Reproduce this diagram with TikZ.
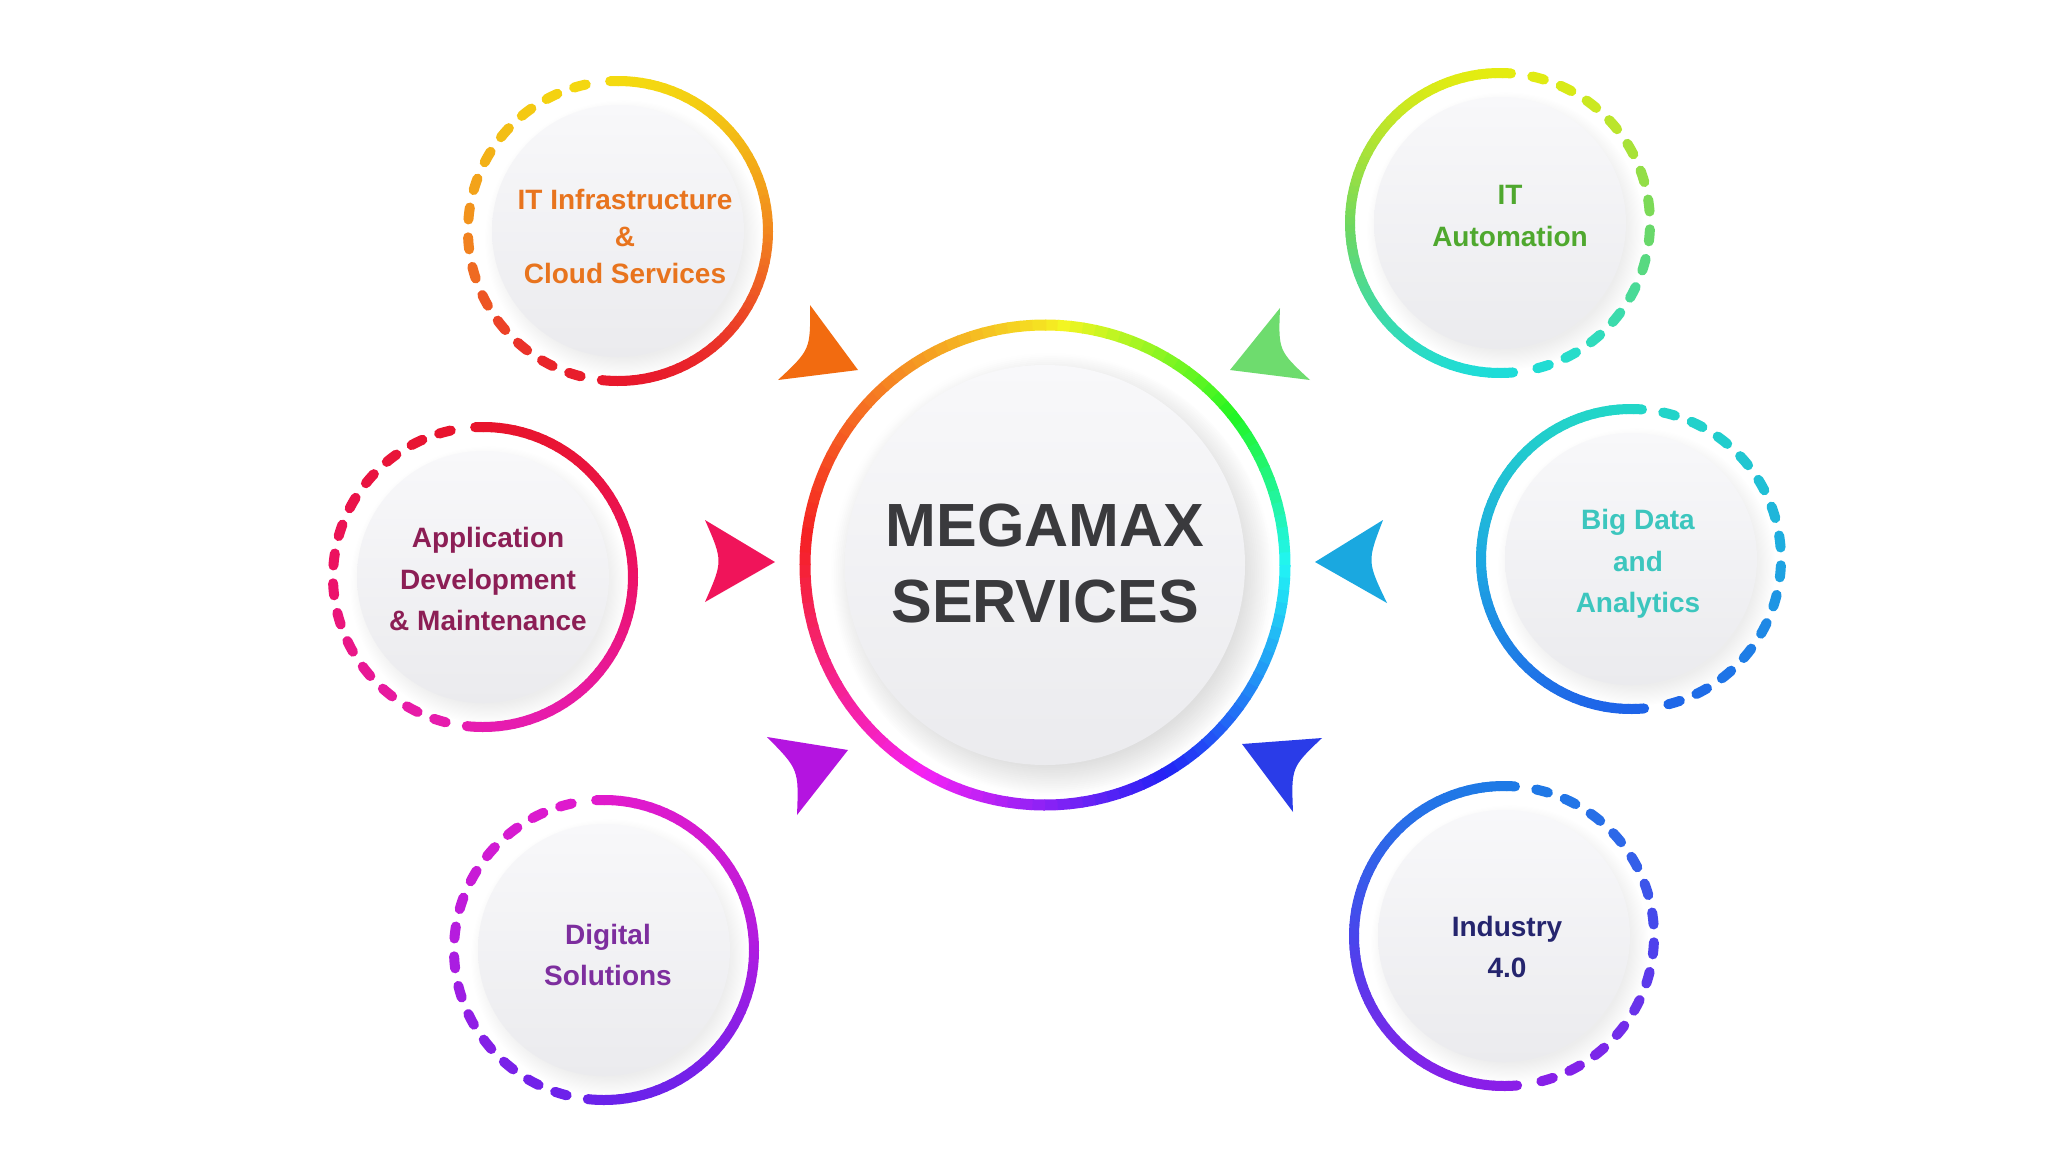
\documentclass[tikz,border=0pt]{standalone}
\usepackage{fontspec}
\setmainfont{Liberation Sans}
\usepackage{tikz}
\usetikzlibrary{shadows,fadings}

\definecolor{hubink}{HTML}{3A3A3D}
\definecolor{disktop}{HTML}{F8F8FA}
\definecolor{diskbot}{HTML}{EBEBEE}
\definecolor{infraink}{HTML}{E8741E}
\definecolor{autoink}{HTML}{4FA82E}
\definecolor{appink}{HTML}{8C1E55}
\definecolor{dataink}{HTML}{3CC6BE}
\definecolor{digiink}{HTML}{7D2E9E}
\definecolor{indink}{HTML}{25256E}
% ring colours: top, middle, bottom
\definecolor{infraA}{HTML}{F4DA10}\definecolor{infraB}{HTML}{F28A1E}\definecolor{infraC}{HTML}{E8182C}
\definecolor{autoA}{HTML}{E4EC10}\definecolor{autoB}{HTML}{6ED860}\definecolor{autoC}{HTML}{1EDCD8}
\definecolor{appA}{HTML}{E8142C}\definecolor{appB}{HTML}{EC1266}\definecolor{appC}{HTML}{E61CB0}
\definecolor{dataA}{HTML}{22D6C8}\definecolor{dataB}{HTML}{1EA8E2}\definecolor{dataC}{HTML}{1E64E8}
\definecolor{digiA}{HTML}{E01ACC}\definecolor{digiB}{HTML}{B01CE0}\definecolor{digiC}{HTML}{6A22EA}
\definecolor{indA}{HTML}{1E7AE6}\definecolor{indB}{HTML}{4A44EC}\definecolor{indC}{HTML}{8A1EE8}
% pointer colours
\definecolor{ptrorange}{HTML}{F26B10}
\definecolor{ptrgreen}{HTML}{6EDC6E}
\definecolor{ptrred}{HTML}{F0145A}
\definecolor{ptrcyan}{HTML}{1AA8E0}
\definecolor{ptrviolet}{HTML}{B414E0}
\definecolor{ptrblue}{HTML}{2A3CE8}

% colour of a ring at angle #1, from top #2 over #3 to bottom #4
\newcommand{\pickcol}[4]{%
  \pgfmathsetmacro\ringt{max(0,min(200,100*(1+sin(#1))))}%
  \ifdim\ringt pt<100pt
    \colorlet{ringc}{#3!\ringt!#2}%
  \else
    \pgfmathsetmacro\ringt{\ringt-100}%
    \colorlet{ringc}{#4!\ringt!#3}%
  \fi}

% half solid, half dashed ring round node #1, solid part starts at #2
\newcommand{\servring}[5]{%
  \foreach \k in {0,...,62}{%
    \pgfmathsetmacro\aS{#2+3*\k}%
    \pickcol{\aS+1.5}{#3}{#4}{#5}%
    \draw[ringc, ringline] ([shift={(\aS:150)}]#1.center) arc[start angle=\aS, end angle=\aS+3.2, radius=150];
  }%
  \foreach \k in {0,...,13}{%
    \pgfmathsetmacro\aS{#2+194+(\k+0.5)*160/14-2.3}%
    \pickcol{\aS+2.3}{#3}{#4}{#5}%
    \draw[ringc, ringline] ([shift={(\aS:150)}]#1.center) arc[start angle=\aS, end angle=\aS+4.6, radius=150];
  }}

\tikzset{
  ringline/.style={line width=10pt, line cap=round},
  disk/.style={circle, inner sep=0pt, minimum size=252pt, top color=disktop, bottom color=diskbot,
    circular drop shadow={shadow xshift=5pt, shadow yshift=-7pt, opacity=.14}},
  hubdisk/.style={disk, minimum size=400pt,
    circular drop shadow={shadow xshift=8pt, shadow yshift=-10pt, opacity=.14}},
  labeltext/.style={align=center, inner sep=0pt, font=\bfseries\fontsize{28}{41.5}\selectfont}
}

\begin{document}
\begin{tikzpicture}[x=1pt,y=1pt,yscale=-1,xscale=1]
\useasboundingbox (0,0) rectangle (2048,1152);
\fill[white] (0,0) rectangle (2048,1152);

%Shape: Circle (centre)
\node[hubdisk] (hub) at (1045,565) {};
\foreach \aS/\hA/\hB in {-90/55/110, -45/110/180, 0/180/225, 45/225/270, 90/270/315, 135/315/355, 180/355/385, 225/385/415}{
  \foreach \k in {0,...,14}{
    \pgfmathsetmacro\aT{\aS+3*\k}
    \pgfmathsetmacro\hh{mod(\hA+(\hB-\hA)*(\k+0.5)/15,360)}
    \definecolor{huec}{Hsb}{\hh,0.86,0.96}
    \draw[huec, line width=11pt] ([shift={(\aT:240)}]hub.center) arc[start angle=\aT, end angle=\aT+3.3, radius=240];
  }}

%Shape: Circles (services)
\node[disk] (infra) at (618,231) {};
\node[disk] (automation) at (1500,223) {};
\node[disk] (appdev) at (483,577) {};
\node[disk] (bigdata) at (1631,559) {};
\node[disk] (digital) at (604,950) {};
\node[disk] (industry) at (1504,936) {};

\servring{infra}{-93}{infraA}{infraB}{infraC}
\servring{automation}{85}{autoA}{autoB}{autoC}
\servring{appdev}{-93}{appA}{appB}{appC}
\servring{bigdata}{85}{dataA}{dataB}{dataC}
\servring{digital}{-93}{digiA}{digiB}{digiC}
\servring{industry}{85}{indA}{indB}{indC}

%Shape: Pointers
\fill[ptrorange] (810,305) .. controls (810.5,349.6) .. (778,380) -- (858,370) -- cycle;
\fill[ptrgreen] (1280,308) .. controls (1278.3,350.7) .. (1310,380) -- (1230,370) -- cycle;
\fill[ptrred] (705,520) .. controls (723,561) .. (705,602) -- (775,562) -- cycle;
\fill[ptrcyan] (1383,520) .. controls (1367,561.5) .. (1387,603) -- (1315,562) -- cycle;
\fill[ptrviolet] (767,737) .. controls (798.8,769.4) .. (797,815) -- (848,750) -- cycle;
\fill[ptrblue] (1322,738) .. controls (1291.2,767.3) .. (1293,812) -- (1242,744) -- cycle;

% Text Node
\node[align=center, inner sep=0pt, text=hubink, font=\bfseries\fontsize{61}{76}\selectfont] (hubtext) at (1045,563) {MEGAMAX\\SERVICES};
% Text Node
\node[labeltext, text=infraink, font=\bfseries\fontsize{28}{37}\selectfont] (infratext) at (625,236) {IT Infrastructure\\\&\\Cloud Services};
% Text Node
\node[labeltext, text=autoink] (automationtext) at (1510,216) {IT\\Automation};
% Text Node
\node[labeltext, text=appink] (appdevtext) at (488,579) {Application\\Development\\\& Maintenance};
% Text Node
\node[labeltext, text=dataink] (bigdatatext) at (1638,564) {Big Data\\and\\Analytics};
% Text Node
\node[labeltext, text=digiink] (digitaltext) at (608,955) {Digital\\Solutions};
% Text Node
\node[labeltext, text=indink] (industrytext) at (1507,947) {Industry\\4.0};

\end{tikzpicture}
\end{document}
